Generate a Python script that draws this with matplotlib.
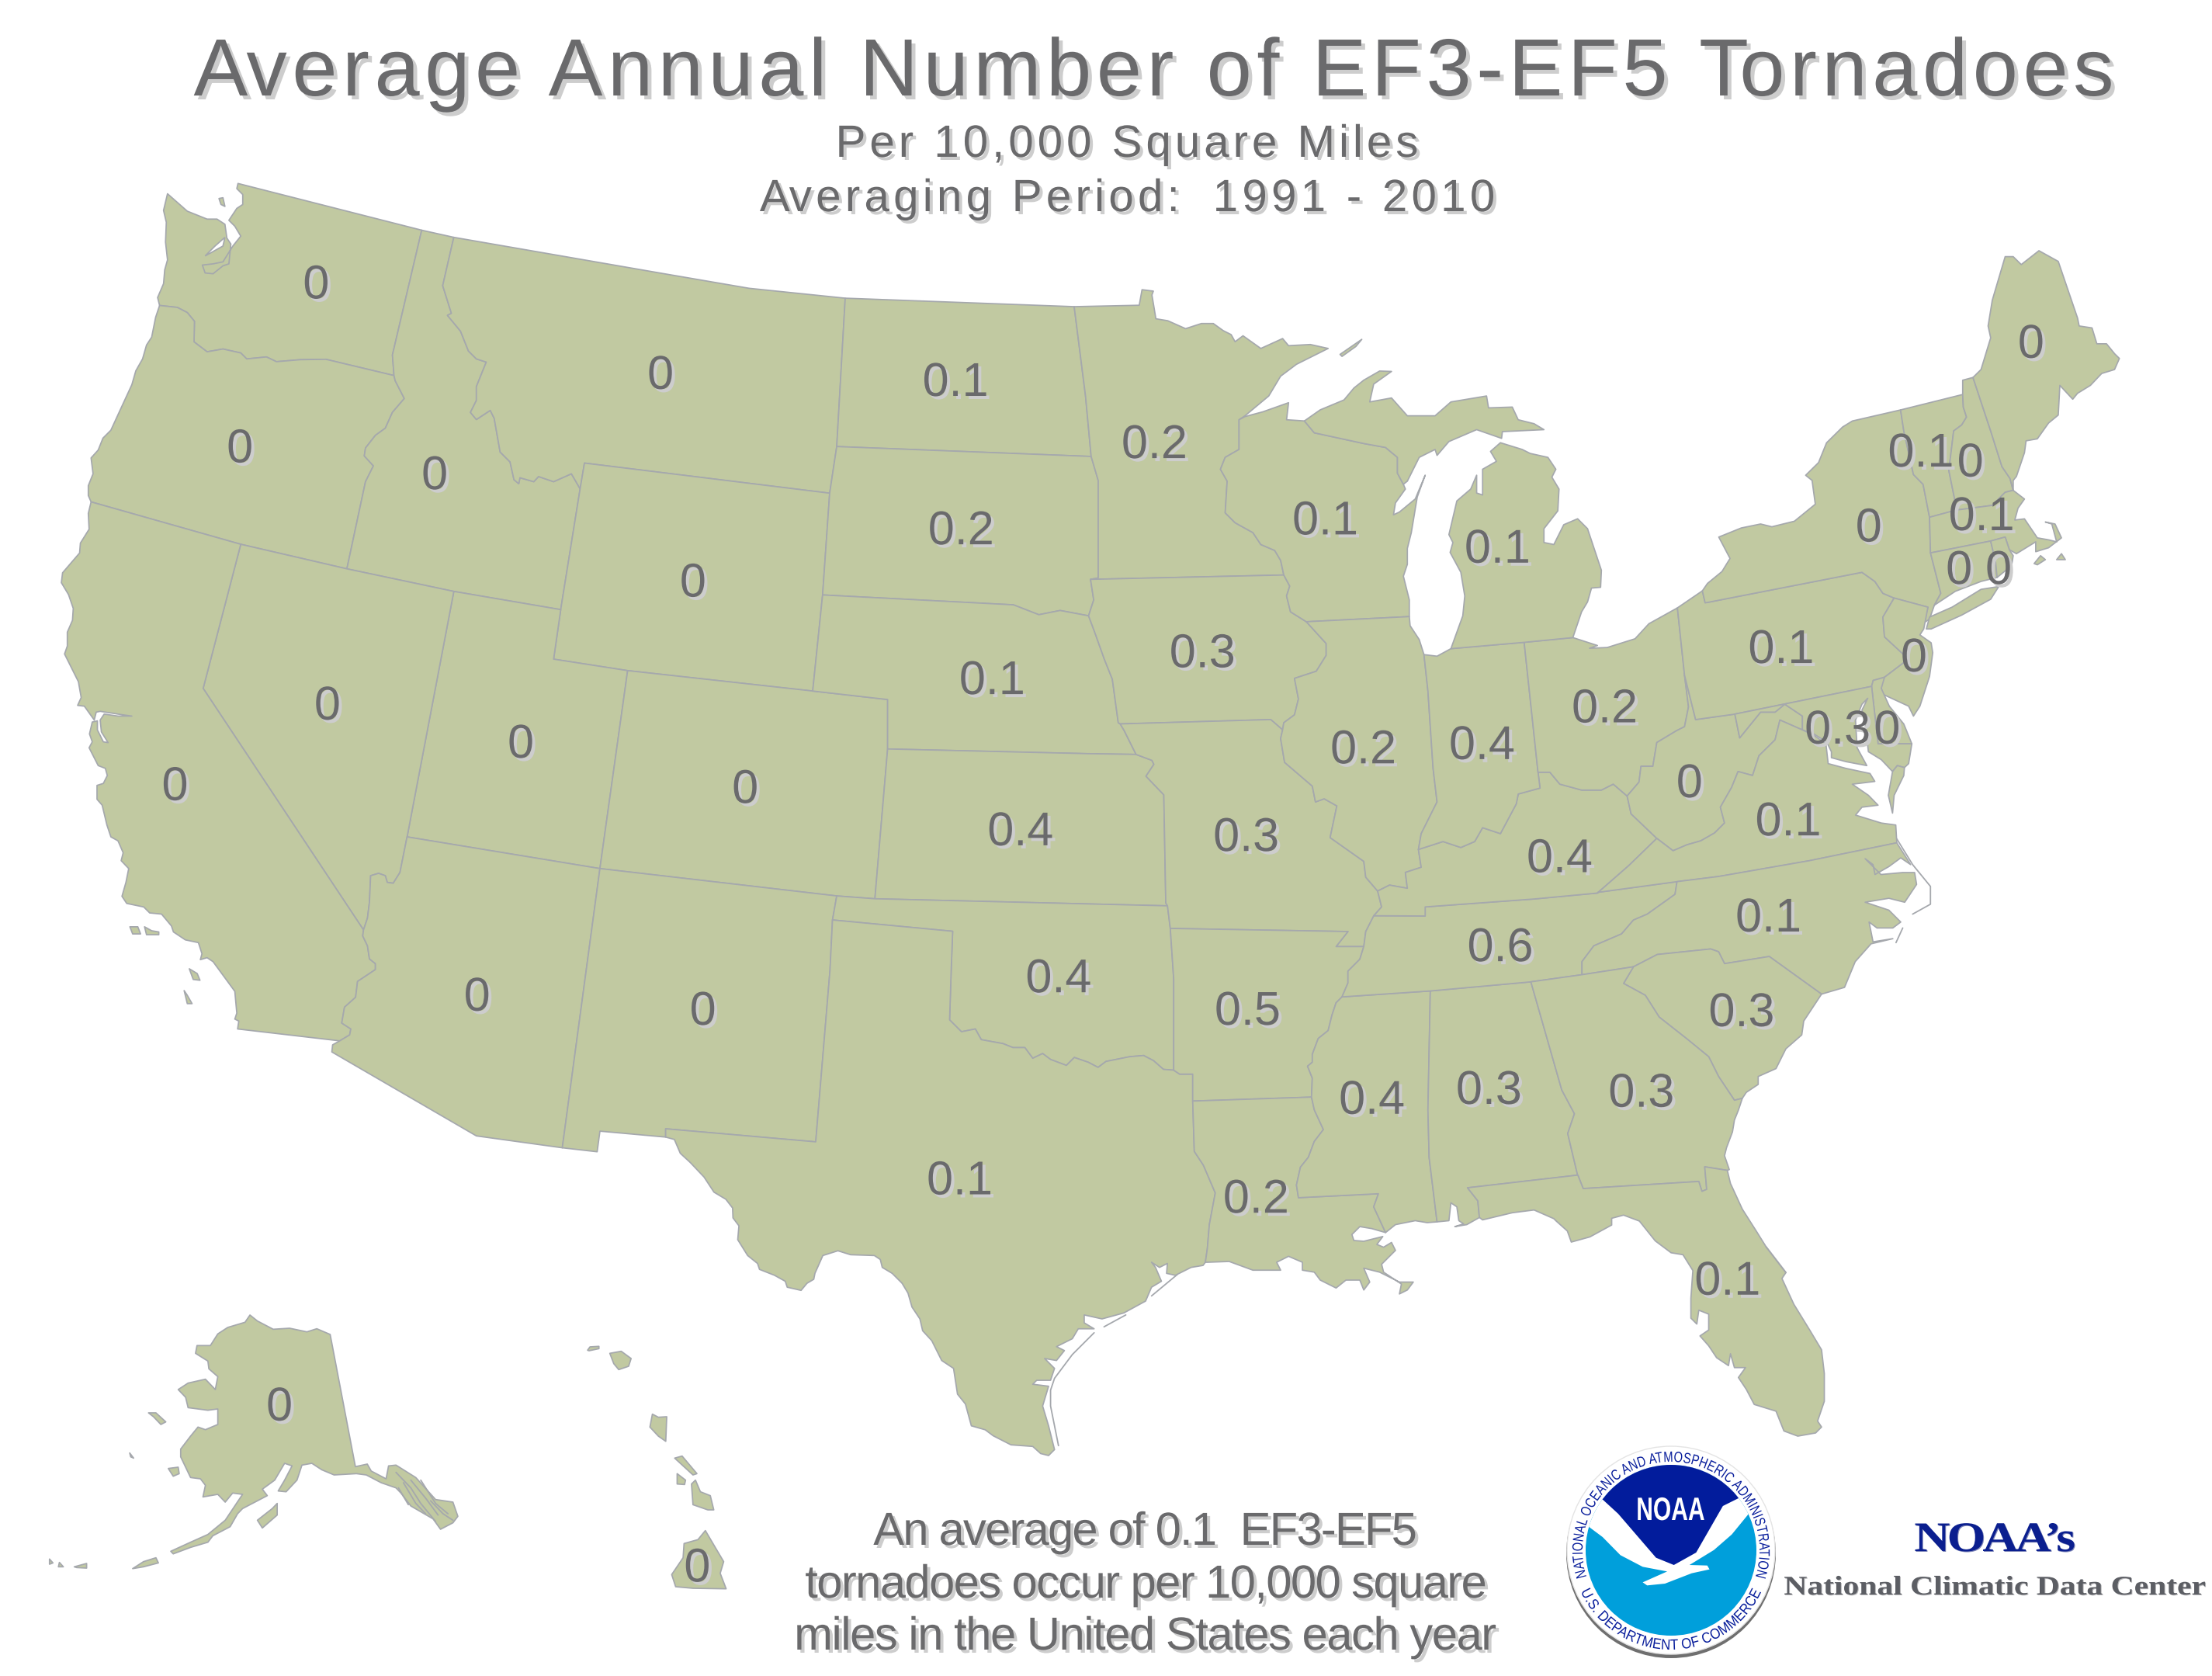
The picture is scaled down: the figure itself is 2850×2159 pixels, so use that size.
import numpy as np
import matplotlib
matplotlib.use("Agg")
import matplotlib.pyplot as plt
from matplotlib.patches import Polygon, Circle
from matplotlib.path import Path
from matplotlib.patheffects import AbstractPathEffect
from matplotlib.transforms import IdentityTransform

W, H = 2850, 2159
LAND = "#c1c9a1"
EDGE = "#a5a8ad"
INK = "#6a6a6c"
SHADE = "#cdcdcd"

FRAMES = {"F": (0, 0, 2850/1565, 2159/1186), "A": (50, 220, 1/1.96, 1/1.96), "B": (50, 800, 1/1.96, 1/1.96),
          "C": (1400, 380, 1/1.96, 1/1.96), "D": (2000, 1050, 1/1.96, 1/1.96), "E": (1400, 1200, 1/1.96, 1/1.96),
          "G": (800, 1250, 1/1.96, 1/1.96), "N": (2200, 300, 1/2.412, 1/1.96), "H": (0, 1650, 1/1.568, 1/3),
          "L": (1950, 1830, 1/1.742, 1/3)}


def P(frame, *pts):
    x0, y0, kx, ky = FRAMES[frame]
    return [(x0 + x*kx, y0 + y*ky) for x, y in pts]


def R(seq):
    return seq[::-1]


# ---------- shared boundaries ----------
n_wa = P("A", (503,32), (967,150))
wa_id = P("A", (967,150), (893,465), (897,517))
wa_or = P("A", (897,517), (725,476), (660,477), (600,482), (575,470), (525,475), (510,460), (465,450), (425,457), (392,432), (393,380), (375,358), (350,345), (305,340))
coast_wa = P("A", (305,340), (300,320), (315,285), (318,250), (325,225), (320,180), (322,130), (315,100), (325,58), (375,102), (425,122), (450,122), (470,135), (475,170), (485,185), (480,235), (465,240), (440,260), (420,258), (413,238), (440,235), (465,230), (490,190), (510,165), (495,140), (480,125), (500,95), (515,85), (515,60), (500,45), (503,32))
coast_or = P("A", (305,340), (295,370), (285,420), (272,440), (262,475), (245,505), (235,540), (205,605), (182,655), (162,675), (150,705), (132,725), (137,765), (125,795), (125,820), (132,836))
or_ca = P("A", (132,836), (510,943))
or_nv = P("A", (510,943), (778,1005))
or_id = P("A", (778,1005), (825,785), (845,745), (822,720), (825,700), (850,668), (875,650), (893,610), (923,575), (900,530), (897,517))
n_id = P("A", (967,150), (1048,168))
id_mt = P("A", (1048,168), (1020,290), (1042,360), (1032,365), (1065,405), (1085,455), (1105,475), (1130,483), (1105,545), (1105,580), (1090,610), (1105,628), (1140,605), (1150,625), (1165,710), (1190,735), (1200,780), (1212,790), (1215,775), (1250,785), (1262,772), (1300,785), (1345,765), (1367,803))
id_wy = P("A", (1367,803), (1318,1108))
id_ut = P("A", (1318,1108), (1048,1062))
id_nv = P("A", (1048,1062), (778,1005))
n_mt = P("A", (1048,168), (1568,258)) + P("F", (530,204), (598,211))
mt_nd = P("F", (598,211), (592,316))
mt_sd = P("F", (592,316), (587,349))
mt_wy = P("F", (587,349)) + P("A", (1378,738))
wy_id_n = P("A", (1378,738), (1367,803))
wy_ut = P("A", (1318,1108), (1300,1233), (1487,1262))
wy_co = P("A", (1487,1262)) + P("F", (575,489))
wy_ne = P("F", (575,489), (582,421))
wy_sd = P("F", (582,421), (587,349))
ut_co = P("A", (1487,1262)) + P("B", (1417,625))
ut_az = P("B", (1417,625), (930,545))
nv_ut = P("B", (930,545)) + P("A", (1048,1062))
nv_az = P("B", (930,545), (912,635), (895,662), (880,660), (875,643), (858,637), (838,643), (835,710), (830,750), (820,780))
nv_ca = P("B", (820,780), (415,170)) + P("A", (510,943))
ca_az = P("B", (760,1060), (785,1045), (788,1030), (765,1015), (772,975), (800,950), (805,910), (850,880), (850,865), (835,853), (830,820), (818,795), (820,780))
s_ca = P("B", (760,1060), (502,1030))
coast_ca = P("A", (132,836), (125,865), (127,905), (105,940), (103,965), (60,1015), (57,1040), (75,1070), (87,1105), (85,1135), (72,1165), (72,1200), (65,1220), (100,1290), (107,1330)) + P("B", (98,213), (115,215), (140,250), (145,230), (155,228), (200,235), (235,240), (200,240), (165,235), (155,250), (158,280), (175,307), (163,305), (148,275), (148,252), (135,255), (128,285), (135,305), (127,320), (150,365), (168,372), (173,390), (163,410), (147,415), (147,450), (160,465), (172,515), (182,545), (200,555), (213,585), (208,605), (227,625), (220,660), (210,695), (222,713), (265,722), (280,737), (310,740), (335,770), (340,785), (370,805), (403,812), (412,840), (408,855), (425,850), (440,860), (495,935), (500,990), (495,1005), (505,1010), (502,1030))
az_nm = P("B", (1417,625), (1322,1330))
s_az = P("B", (1322,1330), (1105,1300), (740,1088), (742,1070), (760,1060))
ne_co = P("F", (628,530), (628,495), (575,489))
co_ks = P("F", (628,530), (619,636))
co_ok = P("F", (619,636), (592,634))
co_nm = P("F", (592,634)) + P("B", (1417,625))
nm_ok = P("F", (592,634), (589,651))
nm_tx = P("F", (589,651)) + P("G", (528,0), (492,433), (113,400), (113,421))
nm_s = P("G", (113,421)) + P("B", (1417,1288), (1410,1340), (1322,1330))
n_nd = P("F", (598,211), (760,217))
nd_mn = P("F", (760,217), (768,280), (772,323))
nd_sd = P("F", (772,323), (592,316))
sd_mn = P("F", (772,323), (777,340), (777,409)) + P("C", (10,718))
sd_ia = P("C", (10,718), (18,770), (5,810))
sd_ne = P("C", (5,810)) + P("F", (750,432), (735,435), (717,428), (582,421))
ne_ia = P("C", (5,810), (20,850), (45,920), (65,970), (80,1080), (85,1083))
ne_mo = P("C", (85,1083), (95,1100), (125,1160))
ne_ks = P("C", (125,1160), (0,1158)) + P("F", (628,530))
ks_mo = P("C", (125,1160), (165,1175), (170,1185), (150,1215), (195,1262), (200,1535)) + P("F", (826,641))
ks_ok = P("F", (826,641), (619,636))
ok_mo = P("F", (826,641), (828,657))
ok_ar = P("F", (828,657)) + P("E", (220,120), (220,350))
tx_ok = P("G", (1396,252), (1370,250), (1345,228), (1320,215), (1285,218), (1225,230), (1205,245), (1180,232), (1145,220), (1125,240), (1085,225), (1065,210), (1040,222), (1020,195), (990,195), (965,185), (910,175), (895,148), (860,155), (830,125), (834,0)) + P("F", (674,659))
tx_pan = P("F", (674,659), (589,651))
ar_tx = P("E", (268,428), (268,360), (235,360), (220,350))
la_tx = P("E", (268,428), (272,555), (295,590), (325,660), (310,740), (305,800), (300,835))
coast_tx = P("G", (113,421), (135,427), (150,462), (175,485), (210,522), (235,560), (265,578), (282,600), (283,625), (298,645), (295,680), (320,720), (345,740), (350,755), (388,770), (415,785), (420,800), (455,808), (470,790), (487,780), (490,765), (510,720), (548,708), (580,718), (640,720), (655,730), (660,750), (685,765), (710,790), (725,815), (735,850), (755,880), (762,910), (785,935), (810,985), (840,1005), (850,1070), (870,1095), (885,1150), (920,1160), (940,1175), (985,1198), (1040,1202), (1060,1220), (1080,1225), (1095,1210), (1080,1150), (1065,1100), (1080,1050), (1040,1045), (1050,1035), (1085,1035), (1095,1005), (1070,980), (1100,985), (1120,960), (1100,950), (1140,930), (1155,905), (1195,905), (1170,890), (1170,870), (1215,880), (1270,865), (1325,835), (1340,800), (1365,785), (1350,750), (1340,737), (1360,750), (1380,740), (1378,765), (1400,770), (1440,750), (1470,745))
n_mn = P("F", (760,217), (806,216), (808,205), (816,206)) + P("C", (165,0), (175,60), (205,65), (250,85), (290,72), (320,72), (345,90), (365,100), (375,118), (395,103), (440,135), (495,110), (510,128), (565,125), (610,135), (580,150), (530,175), (490,205), (460,255), (400,305), (385,315))
mn_wi = P("C", (385,315), (385,390), (350,410), (338,440), (355,470), (350,550), (375,575), (420,600), (440,630), (475,645), (490,670), (498,707))
mn_ia = P("C", (498,707), (10,718))
ia_wi = P("C", (498,707), (513,735), (505,760), (515,800), (555,825))
ia_il = P("C", (555,825), (605,880), (605,910), (580,950), (525,968), (535,1020), (525,1060), (498,1080), (495,1098))
ia_mo = P("C", (495,1098), (465,1072), (85,1083))
coast_wi = P("C", (385,315), (400,307), (445,295), (510,272), (505,315), (550,318), (575,348))
wi_mi = P("C", (575,348), (700,375), (755,385), (785,410), (785,450), (800,478))
wi_e = P("C", (800,478), (805,490), (780,525), (775,555), (790,548), (830,515), (855,455), (835,510), (825,570), (820,600), (810,640), (810,680), (800,710), (815,770), (815,812))
wi_il = P("C", (815,812), (555,825))
il_lake = P("C", (815,812), (817,835), (840,870), (852,908))
il_in = P("C", (852,908), (862,1000), (875,1195), (885,1280), (860,1330), (845,1360), (838,1400))
il_ky = P("C", (838,1400), (845,1445), (805,1458), (810,1498), (765,1490), (735,1505))
il_mo = P("C", (735,1505), (705,1470), (700,1430), (615,1370), (632,1290), (600,1272), (578,1280), (570,1240), (500,1180), (490,1120), (495,1098))
mo_ky = P("C", (735,1505), (745,1545)) + P("F", (972,648))
mo_tn = P("E", (700,38), (705,0)) + P("F", (972,648))
mo_ar = P("F", (828,657)) + P("E", (660,0), (630,38), (700,38))
ar_tn = P("E", (700,38), (690,70), (660,100), (660,130), (645,165))
ar_ms = P("E", (645,165), (630,180), (620,210), (610,250), (585,270), (570,310), (570,330), (558,340), (570,370), (568,418))
ar_la = P("E", (568,418), (268,428))
la_ms = P("E", (568,418), (575,450), (598,500), (575,530), (560,570), (540,595), (530,640), (535,672), (737,662), (725,695), (755,760))
coast_la = P("E", (305,835), (360,833), (420,855), (490,855), (480,835), (510,820), (545,835), (545,855), (575,860), (590,880), (630,900), (655,880), (690,880), (700,905), (715,885), (700,850), (740,860), (790,885), (825,885), (810,905), (790,915), (795,890), (750,860), (745,840), (780,805), (770,785), (750,797), (733,790), (748,770), (700,782), (675,780), (670,765), (690,745), (720,750), (755,760))
ms_tn = P("E", (645,165), (868,150))
ms_al = P("E", (868,150), (862,450), (865,570), (885,733))
coast_ms = P("E", (885,733), (860,735), (830,730), (780,740), (755,760))
al_tn = P("E", (868,150), (1122,127))
al_ga = P("E", (1122,127), (1200,400), (1232,460), (1215,510), (1240,615))
al_fl = P("E", (1240,615), (962,647), (988,680), (992,722))
coast_al = P("E", (992,722), (960,740), (930,745), (952,738), (940,730), (935,695), (920,685), (915,730), (885,733))
ky_tn = P("F", (972,648)) + P("C", (855,1568), (855,1545), (1130,1525), (1290,1510))
va_tn = P("D", (115,195), (315,168))
tn_nc = P("D", (315,168), (310,200), (240,250), (205,265), (175,300), (105,330), (75,370), (75,403))
tn_ga = P("D", (75,403)) + P("E", (1122,127))
in_lake = P("C", (852,908), (885,912), (920,893))
in_mi = P("C", (920,893), (1105,877))
in_oh = P("C", (1105,877), (1140,1205))
in_ky = P("C", (1140,1205), (1145,1245), (1090,1260), (1085,1285), (1045,1360), (1000,1345), (980,1380), (945,1395), (900,1380), (838,1400))
oh_ky = P("C", (1365,1265), (1330,1235), (1300,1250), (1250,1250), (1195,1235), (1170,1205), (1140,1205))
ky_wv = P("C", (1365,1265), (1375,1310), (1440,1372))
ky_va = P("C", (1440,1372), (1370,1440), (1290,1510))
oh_wv = P("C", (1510,960), (1520,1040), (1510,1090), (1490,1100), (1440,1130), (1430,1190), (1400,1190), (1395,1230), (1365,1265))
oh_pa = P("C", (1492,790), (1510,960))
mi_oh = P("C", (1228,865), (1105,877))
oh_lake = P("C", (1228,865), (1290,885), (1270,892), (1315,890), (1385,868), (1420,830), (1492,790))
mi_lake = P("C", (920,893), (950,810), (955,760), (945,700), (918,650), (925,625), (915,605), (935,520), (970,490), (985,455), (985,500), (1000,505), (1000,440), (1035,420), (1020,395), (1045,373), (1100,390), (1120,400), (1165,410), (1185,440), (1175,460), (1193,490), (1190,545), (1155,590), (1155,625), (1180,630), (1205,580), (1240,565), (1265,590), (1300,695), (1298,738), (1275,740), (1265,775), (1250,800), (1228,865))
up_mi = P("C", (575,348), (550,318), (590,290), (650,265), (675,235), (700,215), (740,192), (770,193), (725,225), (715,270), (770,260), (810,305), (855,305), (880,305), (920,270), (1010,255), (1015,285), (1075,283), (1090,315), (1130,325), (1155,340), (1050,345), (1048,362), (985,340), (915,370), (885,405), (880,390), (840,410), (810,470), (800,478))
wv_pa = P("C", (1510,960), (1538,1072)) + P("N", (85,1215))
wv_md = P("N", (85,1215), (100,1275), (165,1210), (210,1210), (240,1190), (295,1220), (295,1255))
wv_va = P("C", (1440,1372)) + P("D", (305,90), (340,75), (375,65), (410,45), (435,20)) + P("N", (40,1450), (75,1400), (95,1360), (140,1370), (160,1320), (210,1280), (225,1230), (295,1255))
pa_md = P("N", (85,1215), (510,1145))
pa_de = P("N", (510,1145), (515,1130), (550,1122))
pa_nj = P("N", (580,922), (545,970), (550,1020), (610,1065), (610,1085), (550,1122))
ny_pa = P("C", (1555,747), (1562,777)) + P("N", (0,933), (480,857), (520,880), (545,910), (580,922))
pa_erie = P("C", (1555,747), (1492,790))
ny_nj = P("N", (685,945), (580,922))
ny_end = P("N", (685,945), (672,985), (690,975), (705,940))
ny_ct = P("N", (693,808), (725,910), (705,940))
ny_ma = P("N", (690,718), (693,808))
ny_vt = P("N", (600,447), (610,500), (640,610), (670,635), (690,718))
ny_shore = P("N", (600,447), (450,475), (420,490), (370,530), (345,580), (305,612), (325,625), (335,685), (270,728), (200,742), (165,735), (105,745), (35,768), (70,822), (45,855), (0,885)) + P("C", (1555,747))
nj_coast = P("N", (550,1122), (535,1135), (545,1165), (625,1195), (640,1220), (660,1195), (690,1120), (700,1060), (695,1035), (660,1015), (672,1000), (685,945))
md_de = P("N", (510,1145), (530,1290), (635,1290))
de_coast = P("N", (550,1122), (540,1150), (565,1195), (610,1240), (635,1290))
md_rest = P("N", (635,1290), (625,1340), (612,1350), (590,1345), (575,1360), (540,1330), (500,1310), (490,1240), (480,1205), (498,1175), (480,1190), (460,1230), (465,1300), (495,1345), (430,1335), (385,1325), (385,1310), (370,1285), (330,1265), (295,1255))
va_coast = P("N", (295,1255), (330,1268), (368,1290), (375,1340), (430,1352), (505,1365), (520,1385), (450,1392), (500,1420), (530,1445), (480,1450), (460,1470), (540,1490), (585,1495)) + P("D", (870,70))
nc_va = P("D", (315,168), (420,155), (650,115), (870,70))
coast_nc = P("D", (870,70), (905,125), (880,108), (850,130), (815,150), (810,125), (790,110), (830,150), (885,145), (915,145), (920,175), (890,220), (850,210), (790,220), (850,240), (880,270), (860,285), (820,285), (800,270), (810,320), (860,312), (805,325), (765,370), (738,435), (680,452))
nc_sc = P("D", (680,452), (548,357), (435,375), (420,345), (400,338), (265,352), (205,383))
nc_ga = P("D", (205,383), (75,403))
ga_sc = P("D", (205,383), (180,425), (235,455), (270,510), (340,565), (395,610), (420,660), (460,720), (480,715))
coast_sc = P("D", (680,452), (635,520), (630,555), (590,590), (565,640), (520,660), (520,680), (490,700), (480,715))
coast_ga = P("D", (480,715), (470,745), (460,770), (455,800), (440,840), (435,860), (447,895), (442,897))
fl_ga = P("D", (65,910), (78,943), (370,925), (378,950), (390,945), (385,888), (442,897))
coast_fl = P("D", (442,897), (450,930), (480,995), (515,1050), (540,1090), (590,1155), (580,1170), (610,1235), (650,1300), (680,1350), (687,1410), (687,1480), (670,1530), (680,1545), (665,1560), (620,1568), (585,1555), (565,1505), (510,1488), (490,1450), (470,1420), (488,1395), (460,1395), (450,1360), (445,1390), (415,1370), (395,1340), (373,1315), (395,1300), (395,1260), (370,1250), (365,1285), (350,1270), (350,1220), (355,1150), (330,1110), (300,1105), (260,1075), (220,1025), (180,1010), (150,1018), (150,1035), (95,1065), (48,1078), (38,1050), (10,1025)) + P("E", (1180,725), (1130,703), (1075,710), (1000,728), (992,722))
n_vt = P("N", (600,447), (793,408))
vt_nh = P("N", (793,408), (795,440), (805,465), (790,485), (765,500), (750,600), (770,680), (772,700))
ma_vt = P("N", (772,700), (690,718))
n_nh = P("N", (793,408), (793,372), (825,365))
nh_me = P("N", (825,365), (880,500), (915,590), (940,620), (950,650))
ma_nh = P("N", (950,650), (925,655), (885,688), (772,700))
ma_coast = P("N", (950,650), (985,672), (965,695), (955,725), (985,722), (1025,770), (1060,775), (1085,780), (1070,735), (1050,730), (1080,735), (1100,770), (1060,795), (1020,805), (1020,780), (960,810), (938,800), (925,768))
ma_ri = P("N", (925,768), (880,778))
ma_ct = P("N", (880,778), (693,808))
ct_coast = P("N", (705,940), (770,905), (850,880), (900,870))
ct_ri = P("N", (900,870), (895,830), (880,778))
ri_coast = P("N", (900,870), (945,840), (950,815), (938,800), (925,768))
me_out = P("N", (825,365), (850,345), (880,265), (872,235), (885,170), (925,60), (950,60), (975,80), (1030,45), (1090,72), (1150,215), (1155,235), (1195,240), (1210,280), (1240,280), (1265,305), (1280,317), (1265,345), (1225,355), (1190,385), (1150,405), (1135,420), (1095,385), (1090,460), (1060,480), (1025,520), (990,525), (985,555), (960,615), (950,625), (950,650))

# ---------- state outlines ----------
WA = n_wa + wa_id + wa_or + coast_wa
OR = coast_or + or_ca + or_nv + or_id + wa_or
ID = n_id + id_mt + id_wy + id_ut + id_nv + or_id + R(wa_id)
MT = n_mt + mt_nd + mt_sd + mt_wy + wy_id_n + R(id_mt)
WY = mt_wy + wy_id_n + id_wy + wy_ut + wy_co + wy_ne + wy_sd
UT = R(id_ut) + wy_ut + ut_co + ut_az + nv_ut
NV = or_nv + R(id_nv) + R(nv_ut) + nv_az + nv_ca
CA = or_ca + R(nv_ca) + R(ca_az) + s_ca + R(coast_ca)
AZ = R(ut_az) + az_nm + s_az + ca_az + R(nv_az)
CO = wy_co + R(ne_co) + co_ks + co_ok + co_nm + R(ut_co)
NM = R(co_nm) + nm_ok + nm_tx + nm_s + R(az_nm)
ND = n_nd + nd_mn + nd_sd + R(mt_nd)
SD = R(nd_sd) + sd_mn + sd_ia + sd_ne + wy_sd + R(mt_sd)
NE = R(sd_ne) + ne_ia + ne_mo + ne_ks + ne_co + wy_ne
KS = R(ne_ks) + ks_mo + ks_ok + R(co_ks)
OK = R(ks_ok) + ok_mo + ok_ar + tx_ok + tx_pan + R(nm_ok) + R(co_ok)
TX = R(tx_pan) + R(tx_ok) + R(ar_tx) + la_tx + R(coast_tx) + R(nm_tx)
MN = n_mn + mn_wi + mn_ia + R(sd_mn) + R(nd_mn)
IA = R(mn_ia) + ia_wi + ia_il + ia_mo + R(ne_ia) + R(sd_ia)
MO = R(ia_mo) + R(il_mo) + mo_ky + R(mo_tn) + R(mo_ar) + R(ok_mo) + R(ks_mo) + R(ne_mo)
AR = mo_ar + ar_tn + ar_ms + ar_la + ar_tx + R(ok_ar)
LA = R(ar_la) + la_ms + R(coast_la) + R(la_tx)
WI = coast_wi + wi_mi + wi_e + wi_il + R(ia_wi) + R(mn_wi)
IL = R(wi_il) + il_lake + il_in + il_ky + il_mo + R(ia_il)
MS = R(ar_ms) + ms_tn + ms_al + coast_ms + R(la_ms)
AL = R(ms_al) + al_tn + al_ga + al_fl + coast_al
TN = ky_tn + va_tn + tn_nc + tn_ga + R(al_tn) + R(ms_tn) + R(ar_tn) + mo_tn
KY = R(ky_tn) + R(mo_ky) + R(il_ky) + R(in_ky) + R(oh_ky) + ky_wv + ky_va
IN = in_lake + in_mi + in_oh + in_ky + R(il_in)
OH = mi_oh + in_oh + R(oh_ky) + R(oh_wv) + R(oh_pa) + R(oh_lake)
MI = mi_lake + mi_oh + R(in_mi)
MI_UP = up_mi + R(wi_mi)
WV = oh_wv + ky_wv + wv_va + R(wv_md) + R(wv_pa)
PA = oh_pa + wv_pa + pa_md + pa_de + R(pa_nj) + R(ny_pa) + pa_erie
NY = ny_pa + R(ny_nj) + ny_end + R(ny_ct) + R(ny_ma) + R(ny_vt) + ny_shore
NJ = ny_nj + pa_nj + nj_coast
DE = pa_de + de_coast + R(md_de)
MD = pa_md + md_de + md_rest + R(wv_md)
VA = R(ky_va) + wv_va + va_coast + R(nc_va) + R(va_tn)
NC = nc_va + coast_nc + nc_sc + nc_ga + R(tn_nc)
SC = R(nc_sc) + coast_sc + R(ga_sc)
GA = R(tn_ga) + R(nc_ga) + ga_sc + coast_ga + R(fl_ga) + R(al_ga)
FL = fl_ga + coast_fl + R(al_fl)
VT = n_vt + vt_nh + ma_vt + R(ny_vt)
NH = n_nh + nh_me + ma_nh + R(vt_nh)
ME = R(nh_me) + me_out
MA = R(ma_vt) + R(ma_nh) + ma_coast + ma_ri + ma_ct + R(ny_ma)
CT = ny_ct + ct_coast + ct_ri + ma_ct
RI = R(ct_ri) + ri_coast + ma_ri
AK = P("H", (505,132), (520,155), (552,187), (585,183), (620,197), (640,185), (667,207), (718,718), (742,708), (750,735), (780,765), (785,715), (800,712), (840,760), (880,845), (915,855), (925,910), (915,935), (890,960), (875,920), (830,870), (810,820), (800,800), (770,780), (740,750), (720,745), (675,750), (650,730), (630,705), (610,712), (600,770), (578,815), (562,812), (575,770), (590,715), (575,705), (555,770), (530,805), (540,830), (490,880), (480,900), (465,950), (430,985), (420,1010), (385,1030), (350,1055), (345,1045), (385,1010), (420,980), (455,925), (490,825), (470,820), (455,855), (440,825), (410,835), (415,790), (405,765), (385,760), (375,720), (365,680), (365,650), (385,600), (400,565), (415,575), (440,555), (440,495), (420,500), (380,490), (375,450), (360,420), (380,395), (415,380), (435,420), (440,370), (422,340), (420,310), (395,280), (398,250), (425,250), (440,205), (460,180), (495,160))
HI = P("H", (1425,965), (1445,1030), (1462,1085), (1455,1130), (1467,1190), (1400,1188), (1365,1182), (1357,1135), (1380,1070), (1382,1015), (1410,1000))

OUTLINES = [WA, OR, ID, MT, WY, UT, NV, CA, AZ, CO, NM, ND, SD, NE, KS, OK, TX, MN, IA, MO, AR, LA, WI, IL, MS, AL, TN, KY, IN, OH, MI, MI_UP, WV, PA, NY, NJ, DE, MD, VA, NC, SC, GA, FL, VT, NH, ME, MA, CT, RI, AK, HI]

ISLANDS = [P("A", (455,70), (465,68), (470,90), (460,85)),
           P("B", (230,772), (250,772), (257,790), (237,790)), P("B", (267,772), (285,782), (303,785), (303,792), (272,792)),
           P("B", (380,878), (400,890), (407,907), (390,905)), P("B", (367,933), (375,945), (387,966), (375,966)),
           P("C", (640,150), (695,112), (680,130), (645,155)),
           P("N", (690,970), (760,945), (850,900), (905,893), (880,925), (790,965), (695,1000), (680,1000)),
           P("N", (612,1350), (590,1345), (575,1360), (562,1420), (575,1465), (580,1420), (610,1370)),
           P("N", (1015,835), (1035,815), (1050,825), (1025,838)), P("N", (1085,825), (1100,810), (1112,825)),
           P("H", (300,510), (315,510), (335,545), (325,555), (310,525)), P("H", (340,725), (360,720), (362,745), (350,755)),
           P("H", (520,925), (550,880), (560,860), (560,905), (530,955)), P("H", (268,1112), (290,1085), (315,1070), (320,1090), (290,1105)),
           P("H", (100,1075), (107,1090), (100,1095)), P("H", (120,1088), (128,1105), (118,1105)), P("H", (150,1105), (175,1092), (175,1110), (155,1108)),
           P("H", (262,665), (270,685), (264,680)),
           P("H", (1232,280), (1255,272), (1275,300), (1270,330), (1250,343), (1240,320)), P("H", (1187,268), (1192,255), (1210,253), (1210,262), (1190,270)),
           P("H", (1318,515), (1330,527), (1347,525), (1345,620), (1330,600), (1313,565)), P("H", (1363,685), (1378,677), (1408,745), (1400,750)),
           P("H", (1368,745), (1385,770), (1383,787), (1368,785)), P("H", (1405,770), (1415,815), (1435,830), (1442,885), (1430,885), (1400,865), (1397,785))]

HOLES = [P("A", (445,190), (470,168), (465,190), (420,215))]

THIN_LINES = [P("G", (1105,1200), (1085,1100), (1085,1060), (1095,1030), (1140,970), (1195,915)), P("G", (1220,900), (1275,870)), P("G", (1340,822), (1405,768)),
              P("D", (870,60), (910,125), (955,180), (955,225), (910,250)), P("D", (885,285), (868,322)), P("D", (540,1090), (590,1155)),
              P("H", (800,740), (830,800), (850,860), (880,930)), P("H", (815,780), (840,860), (860,900)), P("H", (850,770), (880,860), (905,900)), P("H", (805,800), (825,865)),
              P("H", (870,850), (895,900), (915,925)), P("H", (830,770), (860,840), (885,905))]

# ---------- values and labels ----------
STATE_LABELS = ["0", "0", "0", "0", "0", "0", "0", "0", "0", "0", "0", "0.1", "0.2", "0.1", "0.4", "0.4", "0.1", "0.2", "0.3", "0.3", "0.5", "0.2", "0.1", "0.2", "0.4", "0.1", "0.4", "0.4", "0.6", "0.3", "0.2", "0", "0.3", "0.1", "0.3", "0.1", "0.1", "0.1", "0", "0.1", "0", "0", "0.1", "0", "0", "0", "0.3", "0", "0", "0"]
LABEL_X = [224, 170, 124, 232, 308, 468, 491, 369, 528, 338, 498, 677, 681, 703, 723, 750, 680, 818, 852, 883, 884, 890, 939, 966, 972, 1061, 1050, 1105, 1063, 1055, 1137, 1197, 1163, 1224, 1234, 1253, 1267, 1262, 1324, 1361, 1396, 1439, 1404, 1388, 1416, 1356, 1302, 1337, 198, 494]
LABEL_Y = [201, 317, 556, 499, 336, 265, 412, 526, 558, 705, 715, 270, 375, 481, 588, 692, 835, 314, 462, 592, 715, 848, 368, 530, 778, 388, 527, 607, 670, 771, 501, 554, 773, 906, 716, 649, 581, 459, 373, 320, 327, 243, 365, 403, 403, 465, 516, 516, 995, 1109]

TITLE = "Average Annual Number of EF3-EF5 Tornadoes"
SUB1 = "Per 10,000 Square Miles"
SUB2 = "Averaging Period:  1991 - 2010"
NOTE = ["An average of 0.1  EF3-EF5", "tornadoes occur per 10,000 square", "miles in the United States each year"]
SEAL_TOP = "NATIONAL OCEANIC AND ATMOSPHERIC ADMINISTRATION"
SEAL_BOTTOM = "U.S. DEPARTMENT OF COMMERCE"


# ---------- text helpers ----------
def glyph_clusters(verts, codes):
    starts = np.where(codes == Path.MOVETO)[0]
    ends = np.r_[starts[1:], len(codes)]
    conts = []
    for s, e in zip(starts, ends):
        mask = codes[s:e] != Path.CLOSEPOLY
        xs = verts[s:e, 0][mask]
        conts.append((xs.min(), xs.max(), s, e))
    conts.sort(key=lambda c: c[0])
    groups = []
    for c in conts:
        if groups and c[0] < groups[-1]["x1"] - 0.5:
            groups[-1]["x1"] = max(groups[-1]["x1"], c[1])
            groups[-1]["spans"].append((c[2], c[3]))
        else:
            groups.append({"x0": c[0], "x1": c[1], "spans": [(c[2], c[3])]})
    return groups


class TextFx(AbstractPathEffect):
    """Letter spacing fitted to a target width, plus a hard drop shadow."""
    def __init__(self, width=None, xscale=1.0, shadow=None, shadow_color=SHADE):
        super().__init__()
        self.width, self.xscale, self.shadow, self.shadow_color = width, xscale, shadow, shadow_color

    def draw_path(self, renderer, gc, tpath, affine, rgbFace=None):
        v = np.array(affine.transform(tpath.vertices), float)
        codes = np.asarray(tpath.codes)
        mid = (v[codes != Path.CLOSEPOLY, 0].min() + v[codes != Path.CLOSEPOLY, 0].max()) / 2
        v[:, 0] = mid + (v[:, 0] - mid) * self.xscale
        if self.width is not None:
            groups = glyph_clusters(v, codes)
            h = np.ptp(v[codes != Path.CLOSEPOLY, 1])
            steps, n = [0], 0
            for a, b in zip(groups, groups[1:]):
                n += 2 if b["x0"] - a["x1"] > 0.2 * h else 1
                steps.append(n)
            natural = groups[-1]["x1"] - groups[0]["x0"]
            k = (self.width - natural) / max(n, 1)
            for g, st in zip(groups, steps):
                for s, e in g["spans"]:
                    v[s:e, 0] += st * k - n * k / 2
        if self.shadow:
            sv = v + [self.shadow[0], -self.shadow[1]]
            g0 = renderer.new_gc()
            g0.copy_properties(gc)
            g0.set_linewidth(0)
            renderer.draw_path(g0, Path(sv, codes), IdentityTransform(), matplotlib.colors.to_rgb(self.shadow_color))
            g0.restore()
        renderer.draw_path(gc, Path(v, codes), IdentityTransform(), rgbFace)


class ArcFx(AbstractPathEffect):
    """Bends a line of text along a circle between two angles (degrees, y up)."""
    def __init__(self, center, radius, a0, a1):
        super().__init__()
        self.center, self.radius, self.a0, self.a1 = center, radius, np.radians(a0), np.radians(a1)

    def draw_path(self, renderer, gc, tpath, affine, rgbFace=None):
        v = np.array(affine.transform(tpath.vertices), float)
        codes = np.asarray(tpath.codes)
        base = affine.transform(np.array([[0.0, 0.0]]))[0, 1]
        groups = glyph_clusters(v, codes)
        x0, x1 = groups[0]["x0"], groups[-1]["x1"]
        cx, cy = self.center
        sgn = 1 if self.a1 > self.a0 else -1
        hs = abs(self.a1 - self.a0) * self.radius / (x1 - x0) * 0.98
        out = v.copy()
        for g in groups:
            xc = (g["x0"] + g["x1"]) / 2
            a = self.a0 + (xc - x0) / (x1 - x0) * (self.a1 - self.a0)
            rad = np.array([np.cos(a), np.sin(a)])
            tan = sgn * np.array([-np.sin(a), np.cos(a)])
            up = -rad if sgn > 0 else rad
            for s, e in g["spans"]:
                lx = (v[s:e, 0] - xc) * hs
                ly = v[s:e, 1] - base
                out[s:e] = np.array([cx, cy]) + self.radius * rad + np.outer(lx, tan) + np.outer(ly, up)
        renderer.draw_path(gc, Path(out, codes), IdentityTransform(), rgbFace)


# ---------- drawing ----------
plt.rcParams["font.family"] = ["Liberation Sans", "DejaVu Sans"]
fig = plt.figure(figsize=(W/100, H/100), dpi=100, facecolor="white")
ax = fig.add_axes([0, 0, 1, 1])
ax.set_xlim(0, W)
ax.set_ylim(H, 0)
ax.axis("off")

for outline in OUTLINES + ISLANDS:
    ax.add_patch(Polygon(outline, closed=True, facecolor=LAND, edgecolor=EDGE, linewidth=1.25, joinstyle="round", zorder=2))
for hole in HOLES:
    ax.add_patch(Polygon(hole, closed=True, facecolor="white", edgecolor=EDGE, linewidth=1.25, zorder=2.2))
for line in THIN_LINES:
    ax.plot(*zip(*line), color=EDGE, lw=1.3, zorder=2.5, solid_capstyle="round")

kx, ky = FRAMES["F"][2:]
for s, x, y in zip(STATE_LABELS, LABEL_X, LABEL_Y):
    ax.text(x*kx*0.9986, y*ky + 18.5, s, fontsize=44, color=INK, ha="center", va="baseline", zorder=5,
            path_effects=[TextFx(shadow=(4, 4))])

ax.text(1487, 123, TITLE, fontsize=75.3, color=INK, ha="center", va="baseline", zorder=6,
        path_effects=[TextFx(width=2470, shadow=(5, 5))])
ax.text(1452, 202, SUB1, fontsize=42, color=INK, ha="center", va="baseline", zorder=6,
        path_effects=[TextFx(width=744, shadow=(4, 4))])
ax.text(1453, 272, SUB2, fontsize=42, color=INK, ha="center", va="baseline", zorder=6,
        path_effects=[TextFx(width=945, shadow=(4, 4))])
for s, yb, wd, xc in zip(NOTE, [1990, 2058, 2125], [698, 875, 900], [1476, 1477, 1476]):
    ax.text(xc, yb, s, fontsize=43, color=INK, ha="center", va="baseline", zorder=6,
            path_effects=[TextFx(width=wd, shadow=(4, 4))])

# NOAA seal
SC_X, SC_Y = 2153, 1997
ax.add_patch(Circle((SC_X, SC_Y + 4), 135, fc="#6f6f6f", ec="none", zorder=3))
ax.add_patch(Circle((SC_X, SC_Y), 134, fc="white", ec="#e4e4e4", lw=1, zorder=3.1))
inner = Circle((SC_X, SC_Y), 110, fc="#009fdb", ec="none", zorder=3.2)
ax.add_patch(inner)
wing = P("L", (165,405), (200,450), (240,520), (290,565), (345,583), (290,625), (300,637), (340,630), (400,590), (440,575), (435,560), (395,558), (450,500), (490,440), (528,360), (600,100), (100,100))
wp = Polygon(wing, closed=True, fc="white", ec="none", zorder=3.3)
ax.add_patch(wp)
wp.set_clip_path(inner)
dark = P("L", (197,300), (235,360), (280,450), (320,530), (360,558), (410,510), (440,420), (470,330), (505,300), (505,100), (197,100))
dp = Polygon(dark, closed=True, fc="#021c9c", ec="none", zorder=3.4)
ax.add_patch(dp)
dp.set_clip_path(inner)
ax.text(SC_X - 1, 1958, "NOAA", fontsize=30, fontweight="bold", color="white", ha="center", va="baseline", zorder=4,
        path_effects=[TextFx(xscale=0.72)])
ctr = ax.transData.transform((SC_X, SC_Y))
ax.text(SC_X, SC_Y - 118, SEAL_TOP, fontsize=13.7, color="#0a1f9c", ha="center", va="baseline", zorder=4,
        path_effects=[ArcFx(ctr, 114, 197, -17)])
ax.text(SC_X, SC_Y + 125, SEAL_BOTTOM, fontsize=13.7, color="#0a1f9c", ha="center", va="baseline", zorder=4,
        path_effects=[ArcFx(ctr, 128, 205, 335)])

ax.text(2570, 1998, "NOAA’s", fontsize=39, fontweight="bold", family="Liberation Serif", color="#0b1f8f", ha="center", va="baseline", zorder=6,
        path_effects=[TextFx(width=205, xscale=1.18, shadow=(1, 1), shadow_color="#7f86b8")])
ax.text(2570, 2054, "National Climatic Data Center", fontsize=25, fontweight="bold", family="Liberation Serif", color="#5c5e64", ha="center", va="baseline", zorder=6,
        path_effects=[TextFx(width=542, xscale=1.2, shadow=(1, 1), shadow_color="#b5b5b8")])

fig.savefig("out.png", dpi=100, facecolor="white")
